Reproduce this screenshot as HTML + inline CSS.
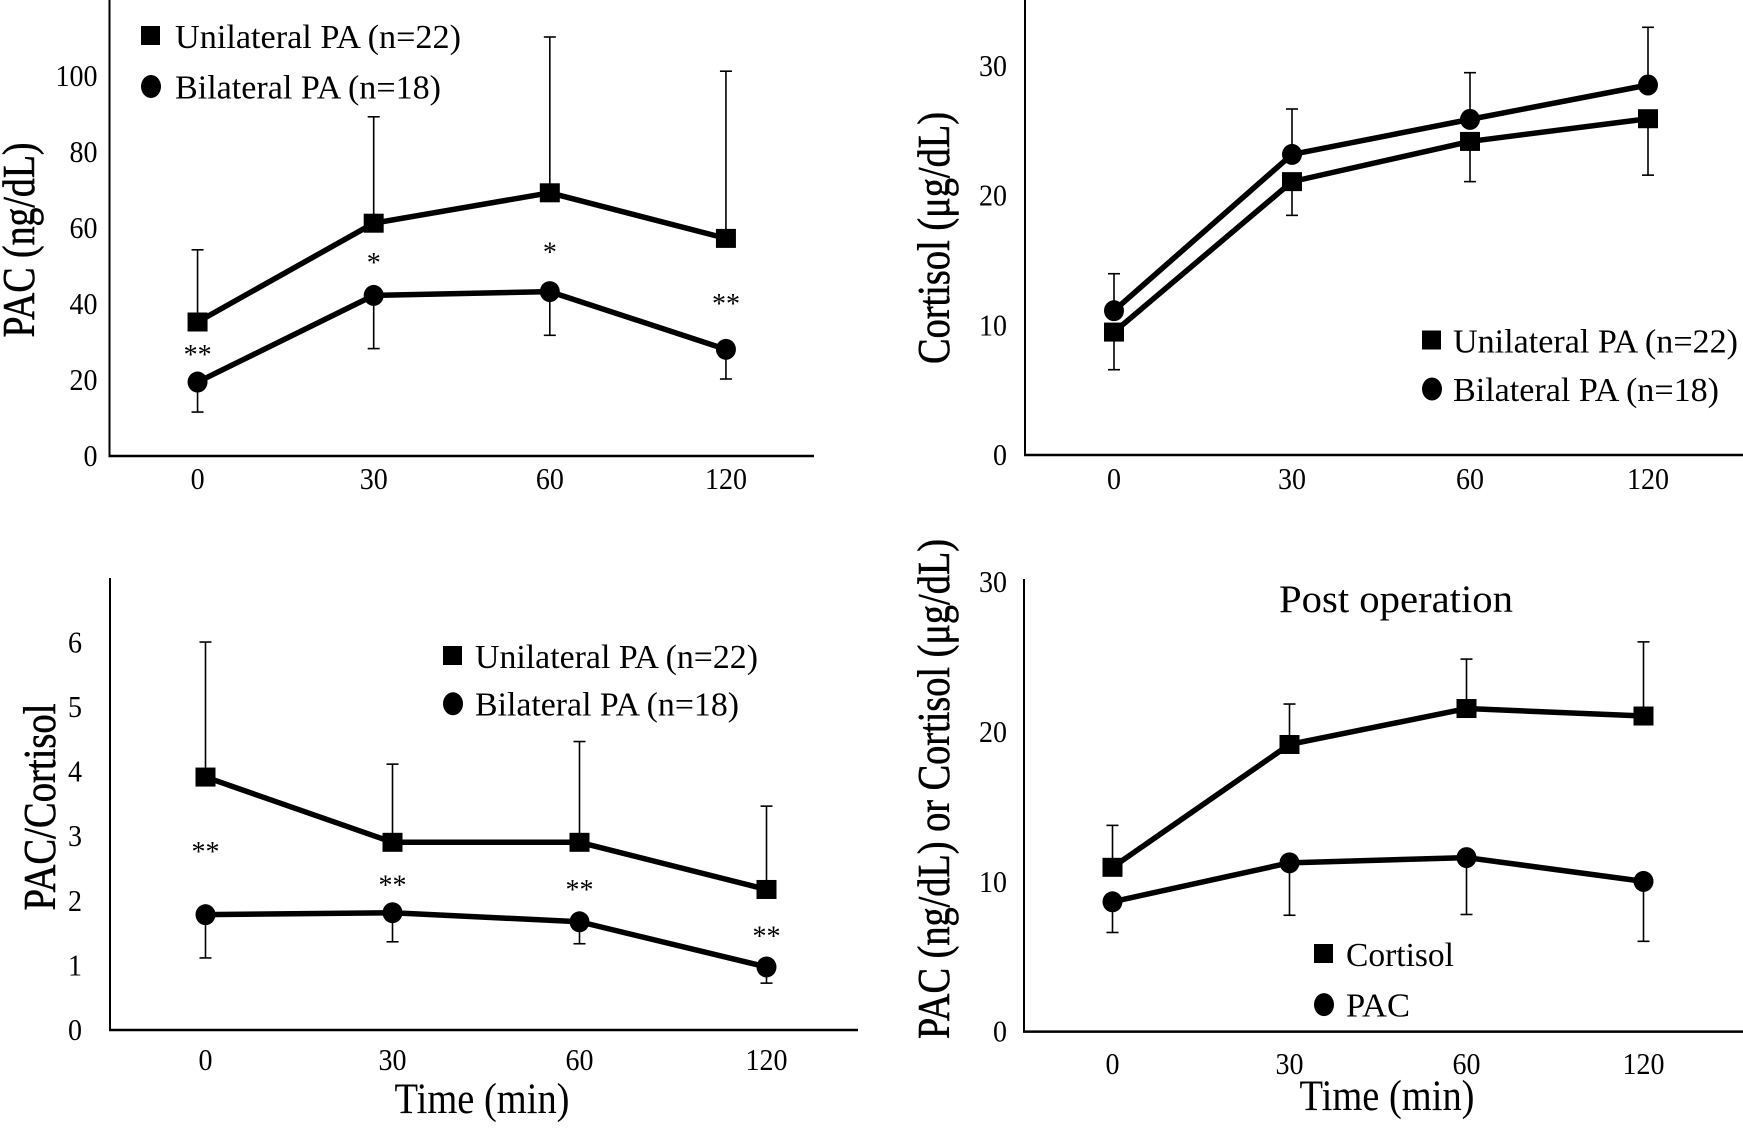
<!DOCTYPE html>
<html><head><meta charset="utf-8"><style>
html,body{margin:0;padding:0;background:#fff;}
svg{display:block;font-family:"Liberation Serif",serif;}
</style></head><body>
<svg id="fig" width="1743" height="1130" viewBox="0 0 1743 1130"></svg>
<script>
const categories = ["0","30","60","120"];
// Panel A: PAC
const pacUni = [35, 61, 69, 57];
const pacUniErr = [19, 28, 41, 44];
const pacBi = [19.2, 42, 43, 27.8];
const pacBiErr = [7.9, 14, 11.5, 7.8];
const pacStars = ["**","*","*","**"];
const pacStarVals = [27.4, 51.6, 54.3, 40.8];
const pacTicks = [0,20,40,60,80,100];
// Panel B: Cortisol
const cortUni = [9.4, 21.0, 24.1, 25.85];
const cortUniErr = [2.9, 2.6, 3.1, 4.35];
const cortBi = [11.05, 23.1, 25.8, 28.45];
const cortBiErr = [2.85, 3.5, 3.6, 4.45];
const cortTicks = [0,10,20,30];
// Panel C: PAC/Cortisol
const ratioUni = [3.9, 2.89, 2.89, 2.16];
const ratioUniErr = [2.09, 1.21, 1.56, 1.29];
const ratioBi = [1.77, 1.8, 1.66, 0.96];
const ratioBiErr = [0.67, 0.45, 0.34, 0.25];
const ratioStars = ["**","**","**","**"];
const ratioStarVals = [2.8, 2.28, 2.21, 1.49];
const ratioTicks = [0,1,2,3,4,5,6];
// Panel D: Post operation
const postCort = [10.9, 19.1, 21.5, 21.0];
const postCortErr = [2.8, 2.7, 3.3, 4.95];
const postPac = [8.6, 11.2, 11.55, 9.96];
const postPacErr = [2.05, 3.5, 3.8, 4.0];
const postTicks = [0,10,20,30];

const NS = "http://www.w3.org/2000/svg";
const svg = document.getElementById("fig");
function mk(tag, attrs, parent) {
  const e = document.createElementNS(NS, tag);
  for (const k in attrs) e.setAttribute(k, attrs[k]);
  (parent || svg).appendChild(e);
  return e;
}
function txt(s, attrs, parent) { const t = mk("text", attrs, parent); t.textContent = s; return t; }

function panel(p) {
  const g = mk("g", {});
  
  
  const band = (p.x1 - p.x0) / categories.length;
  const X = i => p.x0 + band * (i + 0.5) + (p.xShift || 0);
  const Y = v => p.zero - v * p.scale;
  const ya = mk("line", {x1:p.x0, y1:p.top, x2:p.x0, y2:p.zero + 1, stroke:"#000", "stroke-width":2}, g);
  
  
  const xa = mk("line", {x1:p.x0 - 1, y1:p.zero + 1, x2:p.axisEnd, y2:p.zero + 1, stroke:"#000", "stroke-width":2.5}, g);
  
  
  p.ticks.forEach(t => {
    const s = String(t);
    const l = txt(s, {x:p.x0 - p.tickOff, y:Y(t) + 11, "text-anchor":"end", "font-size":31, textLength:14 * s.length, lengthAdjust:"spacingAndGlyphs"}, g);
    
    
  });
  categories.forEach((c, i) => {
    const l = txt(c, {x:X(i), y:p.xLabelY, "text-anchor":"middle", "font-size":31, textLength:14 * c.length, lengthAdjust:"spacingAndGlyphs"}, g);
    
    
  });
  p.series.forEach(s => {
    s.vals.forEach((v, i) => {
      const e = s.err[i] * s.dir;
      const y1 = Y(v), y2 = Y(v + e);
      const eb = mk("line", {x1:X(i), y1:y1, x2:X(i), y2:y2, stroke:"#000", "stroke-width":1.6}, g);
      
      
      mk("line", {x1:X(i) - 6, y1:y2, x2:X(i) + 6, y2:y2, stroke:"#000", "stroke-width":1.6}, g);
    });
    const pts = s.vals.map((v, i) => X(i) + "," + Y(v)).join(" ");
    const pl = mk("polyline", {points:pts, fill:"none", stroke:"#000", "stroke-width":5.5, "stroke-linejoin":"round"}, g);
    
    
    s.vals.forEach((v, i) => {
      let m;
      if (s.shape === "sq") m = mk("rect", {x:X(i) - 10, y:Y(v) - 9.5, width:20, height:19, fill:"#000"}, g);
      else m = mk("ellipse", {cx:X(i), cy:Y(v), rx:10, ry:10.5, fill:"#000"}, g);
      
      
    });
  });
  if (p.stars) {
    p.stars.forEach((s, i) => {
      const t = txt(s, {x:X(i), y:Y(p.starVals[i]) + 13, "text-anchor":"middle", "font-size":28}, g);
      
      
    });
  }
  p.legend.forEach(L => {
    let m;
    if (L.shape === "sq") m = mk("rect", {x:L.mx - 10, y:L.my - 10, width:19, height:19, fill:"#000"}, g);
    else m = mk("ellipse", {cx:L.mx, cy:L.my, rx:10, ry:11.5, fill:"#000"}, g);
    
    
    const t = txt(L.text, {x:L.tx, y:L.my + 12, "font-size":34, textLength:L.w, lengthAdjust:"spacingAndGlyphs"}, g);
    
    
  });
  const yt = txt(p.ytitle, {x:0, y:0, "font-size":45, "text-anchor":"middle", stroke:"#000", "stroke-width":0.6, textLength:p.ytLen, lengthAdjust:"spacingAndGlyphs", transform:`translate(${p.ytX},${p.ytY}) rotate(-90)`}, g);
  
  
  if (p.xtitle) {
    const xt = txt("Time (min)", {x:p.xtX, y:p.xtY, "font-size":43, "text-anchor":"middle", textLength:175, lengthAdjust:"spacingAndGlyphs"}, g);
    
    
  }
  if (p.title) {
    const tt = txt(p.title, {x:1396, y:612, "font-size":39, "text-anchor":"middle", textLength:234, lengthAdjust:"spacingAndGlyphs"}, g);
    
    
  }
}

panel({name:"pac-panel", x0:109.5, x1:814, axisEnd:814, zero:455, scale:3.8, top:0, ticks:pacTicks, tickOff:12, xLabelY:489,
  series:[{name:"unilateral", shape:"sq", vals:pacUni, err:pacUniErr, dir:1},
          {name:"bilateral", shape:"ci", vals:pacBi, err:pacBiErr, dir:-1}],
  stars:pacStars, starVals:pacStarVals,
  legend:[{shape:"sq", mx:151, my:36, tx:175, w:286, text:"Unilateral PA (n=22)"},
          {shape:"ci", mx:151, my:86.5, tx:175, w:266, text:"Bilateral PA (n=18)"}],
  ytitle:"PAC (ng/dL)", ytX:34, ytY:240, ytLen:195});

panel({name:"cortisol-panel", x0:1025, x1:1737, axisEnd:1743, zero:454, scale:12.97, top:0, ticks:cortTicks, tickOff:18, xLabelY:489,
  series:[{name:"unilateral", shape:"sq", vals:cortUni, err:cortUniErr, dir:-1},
          {name:"bilateral", shape:"ci", vals:cortBi, err:cortBiErr, dir:1}],
  legend:[{shape:"sq", mx:1432, my:340.5, tx:1453, w:285, text:"Unilateral PA (n=22)"},
          {shape:"ci", mx:1432, my:389, tx:1453, w:266, text:"Bilateral PA (n=18)"}],
  ytitle:"Cortisol (\u03bcg/dL)", ytX:949, ytY:238, ytLen:252});

panel({name:"ratio-panel", x0:110, x1:858, axisEnd:858, zero:1029, scale:64.6, top:578, ticks:ratioTicks, tickOff:28, xLabelY:1070, xShift:2,
  series:[{name:"unilateral", shape:"sq", vals:ratioUni, err:ratioUniErr, dir:1},
          {name:"bilateral", shape:"ci", vals:ratioBi, err:ratioBiErr, dir:-1}],
  stars:ratioStars, starVals:ratioStarVals,
  legend:[{shape:"sq", mx:453, my:656, tx:475, w:283, text:"Unilateral PA (n=22)"},
          {shape:"ci", mx:453, my:703.7, tx:475, w:264, text:"Bilateral PA (n=18)"}],
  ytitle:"PAC/Cortisol", ytX:55, ytY:807, ytLen:207,
  xtitle:true, xtX:482, xtY:1113});

panel({name:"post-op-panel", x0:1024, x1:1732, axisEnd:1743, zero:1030.6, scale:14.98, top:579, ticks:postTicks, tickOff:17, xLabelY:1074,
  series:[{name:"cortisol", shape:"sq", vals:postCort, err:postCortErr, dir:1},
          {name:"pac", shape:"ci", vals:postPac, err:postPacErr, dir:-1}],
  legend:[{shape:"sq", mx:1324, my:954, tx:1346, w:108, text:"Cortisol"},
          {shape:"ci", mx:1324, my:1004.6, tx:1346, w:64, text:"PAC"}],
  ytitle:"PAC (ng/dL) or Cortisol (\u03bcg/dL)", ytX:949, ytY:789, ytLen:500,
  title:"Post operation",
  xtitle:true, xtX:1387, xtY:1110});
</script>
</body></html>
